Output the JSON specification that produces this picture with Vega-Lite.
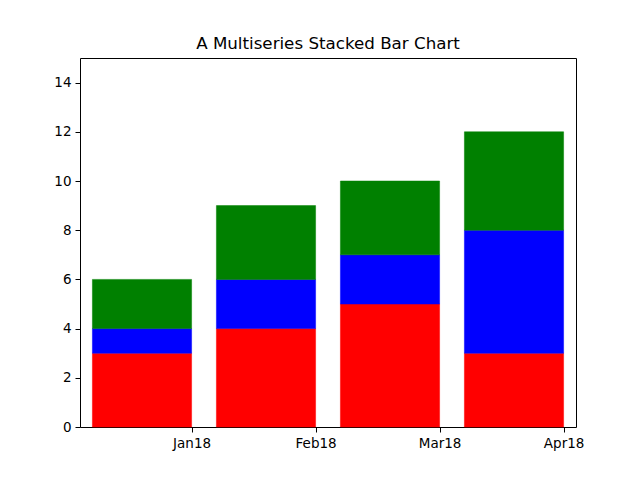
{
  "$schema": "https://vega.github.io/schema/vega-lite/v6.json",
  "width": 496,
  "height": 369,
  "autosize": "none",
  "padding": {"left": 80, "top": 58, "right": 64, "bottom": 53},
  "background": "white",
  "title": {
    "text": "A Multiseries Stacked Bar Chart",
    "font": "DejaVu Sans",
    "fontSize": 16.7,
    "fontWeight": "normal",
    "color": "black",
    "baseline": "alphabetic",
    "offset": -8
  },
  "data": {
    "values": [
      {"start": 0.2, "end": 1, "series": "a", "ord": 1, "value": 3},
      {"start": 0.2, "end": 1, "series": "b", "ord": 2, "value": 1},
      {"start": 0.2, "end": 1, "series": "c", "ord": 3, "value": 2},
      {"start": 1.2, "end": 2, "series": "a", "ord": 1, "value": 4},
      {"start": 1.2, "end": 2, "series": "b", "ord": 2, "value": 2},
      {"start": 1.2, "end": 2, "series": "c", "ord": 3, "value": 3},
      {"start": 2.2, "end": 3, "series": "a", "ord": 1, "value": 5},
      {"start": 2.2, "end": 3, "series": "b", "ord": 2, "value": 2},
      {"start": 2.2, "end": 3, "series": "c", "ord": 3, "value": 3},
      {"start": 3.2, "end": 4, "series": "a", "ord": 1, "value": 3},
      {"start": 3.2, "end": 4, "series": "b", "ord": 2, "value": 5},
      {"start": 3.2, "end": 4, "series": "c", "ord": 3, "value": 4}
    ]
  },
  "transform": [
    {
      "stack": "value",
      "groupby": ["start"],
      "sort": [{"field": "ord", "order": "ascending"}],
      "as": ["y0", "y1"]
    }
  ],
  "mark": {"type": "bar", "strokeWidth": 0.5},
  "encoding": {
    "x": {
      "field": "start",
      "type": "quantitative",
      "title": null,
      "scale": {"domain": [0.1, 4.1], "nice": false, "zero": false},
      "axis": {
        "values": [1, 2, 3, 4],
        "labelExpr": "['', 'Jan18', 'Feb18', 'Mar18', 'Apr18'][datum.value]"
      }
    },
    "x2": {"field": "end"},
    "y": {
      "field": "y0",
      "type": "quantitative",
      "title": null,
      "scale": {"domain": [0, 15], "nice": false},
      "axis": {"values": [0, 2, 4, 6, 8, 10, 12, 14]}
    },
    "y2": {"field": "y1"},
    "color": {
      "field": "series",
      "type": "nominal",
      "scale": {"domain": ["a", "b", "c"], "range": ["#ff0000", "#0000ff", "#008000"]},
      "legend": null
    },
    "stroke": {
      "field": "series",
      "type": "nominal",
      "scale": {"domain": ["a", "b", "c"], "range": ["#ff0000", "#0000ff", "#008000"]},
      "legend": null
    }
  },
  "config": {
    "view": {"stroke": "black", "strokeWidth": 1},
    "axis": {
      "grid": false,
      "domain": false,
      "ticks": true,
      "tickColor": "black",
      "tickSize": 5,
      "tickWidth": 1,
      "labelFont": "DejaVu Sans",
      "labelFontSize": 13.5,
      "labelColor": "black",
      "labelPadding": 4,
      "labelFlush": false,
      "labelOverlap": false
    }
  }
}
